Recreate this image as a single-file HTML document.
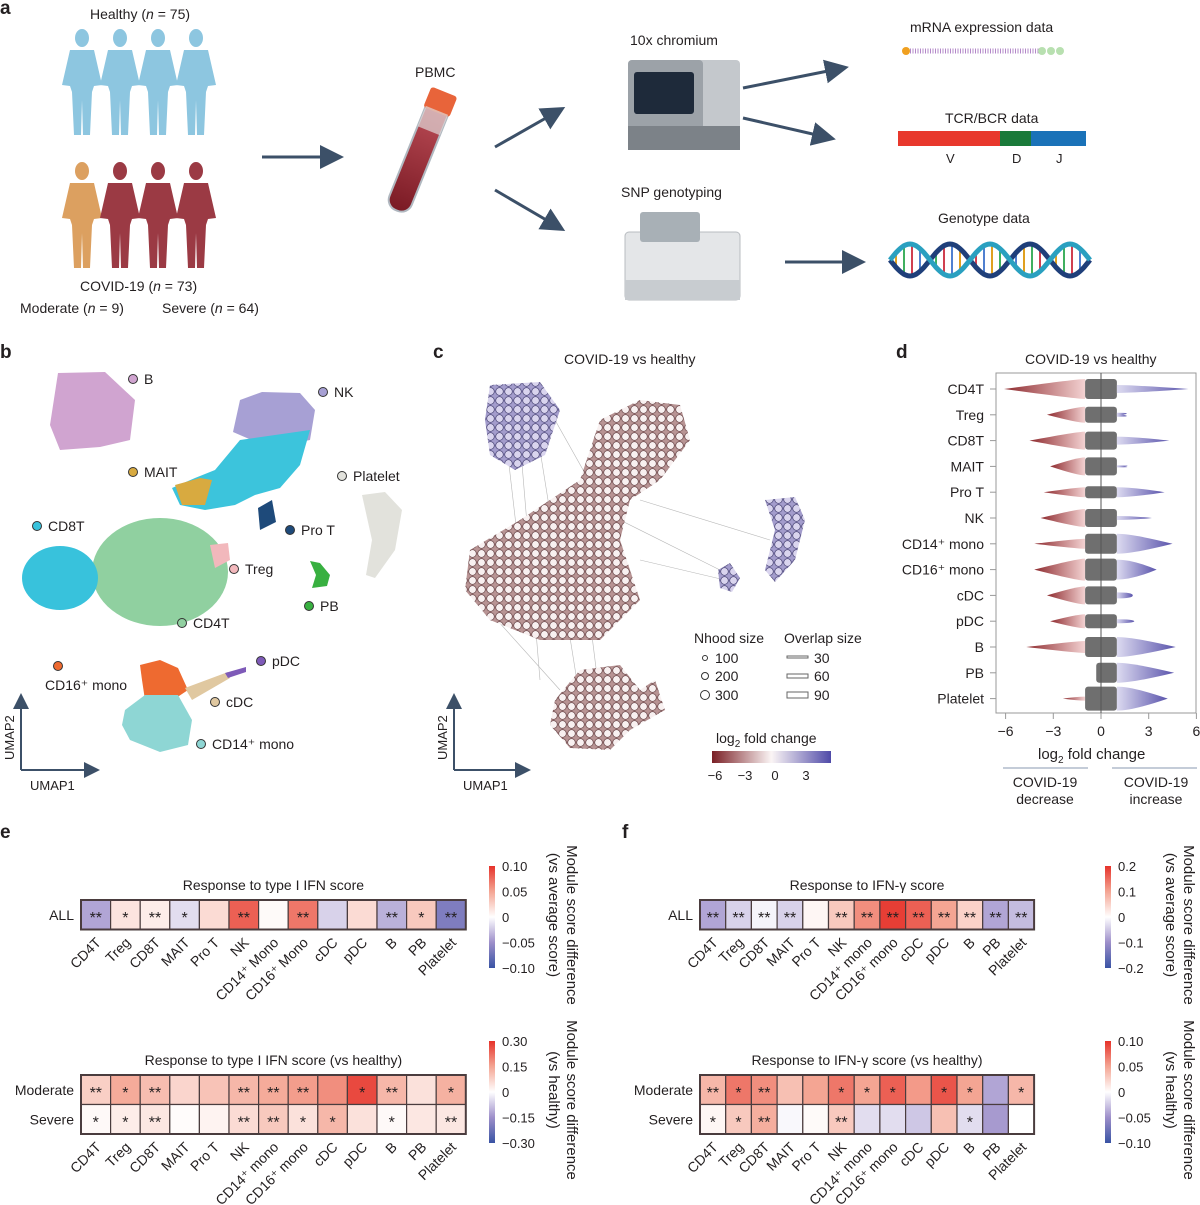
<!DOCTYPE html>
<html><head><meta charset="utf-8">
<style>
html,body{margin:0;padding:0;background:#fff;}
svg{display:block;font-family:"Liberation Sans",sans-serif;}
text{fill:#231f20;}
</style></head>
<body>
<svg id="fig" width="1200" height="1205" viewBox="0 0 1200 1205" xmlns="http://www.w3.org/2000/svg">
<defs>
 <linearGradient id="redg" x1="0" x2="1"><stop offset="0" stop-color="#8e2a2e"/><stop offset="1" stop-color="#f3d2d2"/></linearGradient>
 <linearGradient id="blueg" x1="0" x2="1"><stop offset="0" stop-color="#dcdaf0"/><stop offset="1" stop-color="#5a54ac"/></linearGradient>
 <linearGradient id="lfcbar" x1="0" x2="1"><stop offset="0" stop-color="#7a1f25"/><stop offset="0.5" stop-color="#fbf5f5"/><stop offset="1" stop-color="#4f4aa8"/></linearGradient>
 <linearGradient id="cbar" x1="0" x2="0" y1="0" y2="1"><stop offset="0" stop-color="#e6322a"/><stop offset="0.25" stop-color="#f4a593"/><stop offset="0.5" stop-color="#ffffff"/><stop offset="0.75" stop-color="#9d8fca"/><stop offset="1" stop-color="#3953a4"/></linearGradient>
 <linearGradient id="tube" x1="0" x2="0" y1="0" y2="1"><stop offset="0" stop-color="#c0505a"/><stop offset="1" stop-color="#7a1a24"/></linearGradient>
 <pattern id="nh" width="9" height="9" patternUnits="userSpaceOnUse"><rect width="9" height="9" fill="#b89494"/><circle cx="4.5" cy="4.5" r="3.8" fill="#f8f0f0" stroke="#5e3b3e" stroke-width="0.7"/></pattern>
 <pattern id="nhb" width="9" height="9" patternUnits="userSpaceOnUse"><rect width="9" height="9" fill="#a39ccc"/><circle cx="4.5" cy="4.5" r="3.8" fill="#d9d4ee" stroke="#3e3a6a" stroke-width="0.7"/></pattern>
 <marker id="ah" markerWidth="8" markerHeight="8" refX="6" refY="4" orient="auto"><path d="M0,0 L8,4 L0,8 z" fill="#3c5068"/></marker>
</defs>

<g>
<text x="0" y="14" font-size="19" font-weight="bold">a</text>
<text x="90" y="19" font-size="14">Healthy (<tspan font-style="italic">n</tspan> = 75)</text>
<g id="people"></g>
<text x="80" y="291" font-size="14">COVID-19 (<tspan font-style="italic">n</tspan> = 73)</text>
<text x="20" y="313" font-size="14">Moderate (<tspan font-style="italic">n</tspan> = 9)</text>
<text x="162" y="313" font-size="14">Severe (<tspan font-style="italic">n</tspan> = 64)</text>
<line x1="262" y1="157" x2="338" y2="157" stroke="#3c5068" stroke-width="3" marker-end="url(#ah)"/>
<text x="415" y="77" font-size="14">PBMC</text>
<g transform="rotate(22 425 140)">
 <rect x="413" y="98" width="24" height="118" rx="11" fill="url(#tube)" stroke="#b0b8c0" stroke-width="2"/>
 <rect x="411" y="88" width="28" height="22" rx="3" fill="#e8643a"/>
 <rect x="413" y="108" width="24" height="22" fill="#e0d8d8" opacity="0.7"/>
</g>
<line x1="495" y1="147" x2="560" y2="110" stroke="#3c5068" stroke-width="3" marker-end="url(#ah)"/>
<line x1="495" y1="190" x2="560" y2="228" stroke="#3c5068" stroke-width="3" marker-end="url(#ah)"/>
<text x="630" y="45" font-size="14">10x chromium</text>
<g>
 <rect x="628" y="60" width="112" height="90" rx="4" fill="#c4c8cc"/>
 <rect x="628" y="60" width="75" height="90" rx="4" fill="#9ca2a8"/>
 <rect x="634" y="72" width="60" height="42" rx="3" fill="#1e2a3a"/>
 <rect x="628" y="126" width="112" height="24" fill="#7c8288"/>
</g>
<text x="621" y="197" font-size="14">SNP genotyping</text>
<g>
 <rect x="625" y="232" width="115" height="68" rx="4" fill="#e4e6e8" stroke="#b8bcc0"/>
 <rect x="640" y="212" width="60" height="30" rx="3" fill="#a8b0b6"/>
 <rect x="625" y="280" width="115" height="20" fill="#c8ccd0"/>
</g>
<line x1="743" y1="88" x2="843" y2="68" stroke="#3c5068" stroke-width="3" marker-end="url(#ah)"/>
<line x1="743" y1="118" x2="830" y2="138" stroke="#3c5068" stroke-width="3" marker-end="url(#ah)"/>
<line x1="785" y1="262" x2="860" y2="262" stroke="#3c5068" stroke-width="3" marker-end="url(#ah)"/>
<text x="910" y="32" font-size="14">mRNA expression data</text>
<g>
 <line x1="905" y1="51" x2="1040" y2="51" stroke="#b388c8" stroke-width="5" stroke-dasharray="1 1.5"/>
 <circle cx="906" cy="51" r="4" fill="#f0a020"/>
 <circle cx="1042" cy="51" r="4" fill="#b8e0b0"/><circle cx="1051" cy="51" r="4" fill="#b8e0b0"/><circle cx="1060" cy="51" r="4" fill="#b8e0b0"/>
</g>
<text x="945" y="123" font-size="14">TCR/BCR data</text>
<rect x="898" y="131" width="102" height="15" fill="#e8382c"/>
<rect x="1000" y="131" width="31" height="15" fill="#1a7a3a"/>
<rect x="1031" y="131" width="55" height="15" fill="#1a72b8"/>
<text x="946" y="163" font-size="13">V</text>
<text x="1012" y="163" font-size="13">D</text>
<text x="1056" y="163" font-size="13">J</text>
<text x="938" y="223" font-size="14">Genotype data</text>
<g id="dna"></g>
</g>

<g>
<text x="0" y="358" font-size="19" font-weight="bold">b</text>
<path d="M58,373 L105,372 L135,400 L130,440 L100,447 L60,450 L50,425 Z" fill="#d0a4d0"/>
<path d="M233,432 L240,400 L262,392 L300,393 L315,410 L310,440 L270,448 Z" fill="#a7a0d4"/>
<path d="M240,440 L310,430 L300,465 L280,488 L255,495 L235,505 L205,510 L180,505 L172,488 L195,478 L215,470 Z" fill="#3cc4dc"/>
<path d="M175,485 L200,478 L212,480 L205,505 L182,505 Z" fill="#d8aa40"/>
<path d="M258,508 L272,500 L276,522 L260,530 Z" fill="#1e4a7a"/>
<ellipse cx="160" cy="572" rx="68" ry="54" fill="#90d0a0"/>
<path d="M210,545 L228,543 L230,560 L215,568 Z" fill="#f2b8bc"/>
<ellipse cx="60" cy="578" rx="38" ry="32" fill="#38c2dc"/>
<path d="M362,495 L385,492 L402,510 L395,550 L375,578 L366,575 L372,540 Z" fill="#e2e2dc"/>
<path d="M310,561 L320,563 L330,575 L327,586 L312,588 L316,575 Z" fill="#38b040"/>
<path d="M140,665 L160,660 L178,668 L188,690 L170,702 L145,700 L142,680 Z" fill="#ee6a30"/>
<path d="M125,710 L145,695 L178,695 L192,720 L188,745 L160,752 L130,740 L122,725 Z" fill="#8ed6d4"/>
<path d="M185,688 L228,672 L230,678 L192,700 Z" fill="#e0c8a0"/>
<path d="M225,673 L246,667 L246,672 L228,678 Z" fill="#7e5ab8"/>
<g id="blabels"></g>
<line x1="21" y1="770" x2="21" y2="697" stroke="#3c5068" stroke-width="2" marker-end="url(#ah)"/>
<line x1="21" y1="770" x2="96" y2="770" stroke="#3c5068" stroke-width="2" marker-end="url(#ah)"/>
<text x="14" y="760" font-size="13" transform="rotate(-90 14 760)">UMAP2</text>
<text x="30" y="790" font-size="13">UMAP1</text>
</g>

<g>
<text x="433" y="358" font-size="19" font-weight="bold">c</text>
<text x="564" y="364" font-size="14">COVID-19 vs healthy</text>
<g stroke="#b8b8b8" stroke-width="0.6">
 <line x1="520" y1="440" x2="540" y2="680"/><line x1="540" y1="450" x2="580" y2="700"/><line x1="505" y1="430" x2="520" y2="560"/>
 <line x1="555" y1="420" x2="600" y2="500"/><line x1="620" y1="520" x2="720" y2="570"/><line x1="640" y1="500" x2="770" y2="540"/>
 <line x1="590" y1="620" x2="600" y2="700"/><line x1="640" y1="560" x2="725" y2="580"/><line x1="470" y1="590" x2="560" y2="690"/>
</g>
<path d="M490,385 L540,382 L560,410 L545,455 L515,470 L490,455 L485,420 Z" fill="url(#nhb)"/>
<path d="M600,420 L640,400 L680,405 L690,440 L660,480 L630,500 L620,540 L640,600 L600,640 L540,640 L490,620 L465,590 L470,550 L520,520 L580,480 Z" fill="url(#nh)"/>
<path d="M555,700 L580,670 L620,665 L640,690 L655,680 L665,710 L630,730 L610,750 L570,748 L550,725 Z" fill="url(#nh)"/>
<path d="M765,500 L795,497 L805,520 L795,560 L775,582 L765,570 L775,530 Z" fill="url(#nhb)"/>
<path d="M718,570 L730,563 L740,578 L732,592 L720,588 Z" fill="url(#nhb)"/>
<line x1="454" y1="770" x2="454" y2="697" stroke="#3c5068" stroke-width="2" marker-end="url(#ah)"/>
<line x1="454" y1="770" x2="527" y2="770" stroke="#3c5068" stroke-width="2" marker-end="url(#ah)"/>
<text x="447" y="760" font-size="13" transform="rotate(-90 447 760)">UMAP2</text>
<text x="463" y="790" font-size="13">UMAP1</text>
<text x="694" y="643" font-size="14">Nhood size</text>
<text x="784" y="643" font-size="14">Overlap size</text>
<g>
 <circle cx="705" cy="658" r="2.5" fill="#fff" stroke="#333"/><text x="715" y="663" font-size="14">100</text>
 <circle cx="705" cy="676" r="3.5" fill="#fff" stroke="#333"/><text x="715" y="681" font-size="14">200</text>
 <circle cx="705" cy="695" r="4.5" fill="#fff" stroke="#333"/><text x="715" y="700" font-size="14">300</text>
</g>
<g>
 <rect x="787" y="656" width="21" height="2" fill="#fff" stroke="#666"/><text x="814" y="663" font-size="14">30</text>
 <rect x="787" y="674" width="21" height="4" fill="#fff" stroke="#666"/><text x="814" y="681" font-size="14">60</text>
 <rect x="787" y="692" width="21" height="6" fill="#fff" stroke="#666"/><text x="814" y="700" font-size="14">90</text>
</g>
<text x="716" y="743" font-size="14">log<tspan font-size="10" dy="4">2</tspan><tspan dy="-4"> fold change</tspan></text>
<rect x="712" y="751" width="119" height="12" fill="url(#lfcbar)"/>
<g font-size="13">
 <text x="715" y="780" text-anchor="middle">−6</text><text x="745" y="780" text-anchor="middle">−3</text>
 <text x="775" y="780" text-anchor="middle">0</text><text x="806" y="780" text-anchor="middle">3</text>
</g>
</g>

<g id="paneld">
<text x="896" y="358" font-size="19" font-weight="bold">d</text>
<text x="1025" y="364" font-size="14">COVID-19 vs healthy</text>
<rect x="996" y="373" width="200" height="340" fill="none" stroke="#999"/>
<g id="swarm"></g>
<line x1="1101" y1="373" x2="1101" y2="713" stroke="#555"/>
<g id="dticks"></g>
<text x="1038" y="759" font-size="15">log<tspan font-size="10" dy="4">2</tspan><tspan dy="-4"> fold change</tspan></text>
<line x1="1088" y1="768" x2="1003" y2="768" stroke="#8a9ab0"/>
<line x1="1112" y1="768" x2="1197" y2="768" stroke="#8a9ab0"/>
<text x="1045" y="787" font-size="14" text-anchor="middle">COVID-19</text>
<text x="1045" y="804" font-size="14" text-anchor="middle">decrease</text>
<text x="1156" y="787" font-size="14" text-anchor="middle">COVID-19</text>
<text x="1156" y="804" font-size="14" text-anchor="middle">increase</text>
</g>

<text x="0" y="838" font-size="19" font-weight="bold">e</text>
<text x="622" y="838" font-size="19" font-weight="bold">f</text>
<g id="heatmaps"></g>
</svg>

<script>
const dCells = ["CD4T","Treg","CD8T","MAIT","Pro T","NK","CD14⁺ mono","CD16⁺ mono","cDC","pDC","B","PB","Platelet"];
const dMinLfc = [-6.1,-3.4,-4.5,-3.2,-3.6,-3.8,-4.2,-4.2,-3.4,-3.2,-4.7,-0.3,-2.4];
const dMaxLfc = [5.5,1.4,4.3,1.5,4.0,3.2,4.5,3.5,2.0,2.1,4.7,4.6,4.2];
const dWidthL = [1.0,0.8,0.9,0.9,0.5,0.9,0.5,1.1,0.9,0.7,0.6,0.1,0.2];
const dWidthR = [0.4,0.2,0.4,0.1,0.5,0.2,1.0,1.0,0.3,0.2,1.0,1.0,1.2];
const dTicks = [-6,-3,0,3,6];

const hmCells1 = ["CD4T","Treg","CD8T","MAIT","Pro T","NK","CD14⁺ Mono","CD16⁺ Mono","cDC","pDC","B","PB","Platelet"];
const hmCells2 = ["CD4T","Treg","CD8T","MAIT","Pro T","NK","CD14⁺ mono","CD16⁺ mono","cDC","pDC","B","PB","Platelet"];
const eAll = [-0.04,0.015,0.01,-0.015,0.02,0.08,0.003,0.07,-0.02,0.02,-0.035,0.03,-0.065];
const eAllStars = ["**","*","**","*","","**","","**","","","**","*","**"];
const eMod = [0.08,0.14,0.11,0.07,0.10,0.12,0.14,0.16,0.18,0.27,0.12,0.05,0.13];
const eModStars = ["**","*","**","","","**","**","**","","*","**","","*"];
const eSev = [0.01,0.03,0.04,0.005,0.02,0.06,0.09,0.05,0.12,0.05,0.01,0.04,0.04];
const eSevStars = ["*","*","**","","","**","**","*","*","","*","","**"];
const fAll = [-0.08,-0.04,-0.01,-0.04,0.01,0.06,0.12,0.19,0.16,0.1,0.05,-0.08,-0.06];
const fAllStars = ["**","**","**","**","","**","**","**","**","**","**","**","**"];
const fMod = [0.04,0.07,0.06,0.035,0.05,0.07,0.05,0.08,0.055,0.085,0.05,-0.04,0.04];
const fModStars = ["**","*","**","","","*","*","*","","*","*","","*"];
const fSev = [0.005,0.03,0.045,-0.003,0.003,0.03,-0.015,-0.015,-0.025,0.035,-0.015,-0.045,0.0];
const fSevStars = ["*","*","**","","","**","","","","","*","",""];
const eTopTicks = ["0.10","0.05","0","−0.05","−0.10"];
const eBotTicks = ["0.30","0.15","0","−0.15","−0.30"];
const fTopTicks = ["0.2","0.1","0","−0.1","−0.2"];
const fBotTicks = ["0.10","0.05","0","−0.05","−0.10"];

const NS = "http://www.w3.org/2000/svg";
function mk(tag, attrs, parent){ const e=document.createElementNS(NS,tag); for(const k in attrs) e.setAttribute(k,attrs[k]); parent.appendChild(e); return e; }

(function(){
  const g=document.getElementById('people');
  const xs=[82,120,158,196];
  const cols=[["#8dc6e0","#8dc6e0","#8dc6e0","#8dc6e0"],["#dca060","#9b3a44","#9b3a44","#9b3a44"]];
  [[30,0],[163,1]].forEach(([y0,r])=>{
    xs.forEach((x,i)=>{
      const p=mk('g',{},g);
      
      
      const c=cols[r][i];
      mk('ellipse',{cx:x,cy:y0+8,rx:7,ry:9,fill:c},p);
      mk('path',{d:`M${x-12},${y0+20} L${x+12},${y0+20} L${x+20},${y0+55} L${x+12},${y0+56} L${x+10},${y0+62} L${x+8},${y0+105} L${x+1},${y0+105} L${x},${y0+70} L${x-1},${y0+105} L${x-8},${y0+105} L${x-10},${y0+62} L${x-12},${y0+56} L${x-20},${y0+55} Z`,fill:c},p);
    });
  });
})();
(function(){
  const g=document.getElementById('dna');
  let a="",b="";
  for(let x=890;x<=1090;x+=2){ const t=(x-890)/200*Math.PI*5; const y1=260+16*Math.sin(t), y2=260-16*Math.sin(t);
    a+=(x===890?"M":"L")+x+","+y1.toFixed(1); b+=(x===890?"M":"L")+x+","+y2.toFixed(1);
    if(x%8===0){ const l=mk('line',{x1:x,y1:y1,x2:x,y2:y2,stroke:["#e0a020","#40b060","#d04050","#5080d0"][(x/8)%4],'stroke-width':2},g);   }
  }
  mk('path',{d:a,fill:'none',stroke:'#1f3f7a','stroke-width':5},g);
  mk('path',{d:b,fill:'none',stroke:'#2aa0c0','stroke-width':5},g);
})();
(function(){
  const g=document.getElementById('blabels');
  const L=[["B",133,379,"#d0a4d0"],["NK",323,392,"#a7a0d4"],["MAIT",133,472,"#d8aa40"],["Platelet",342,476,"#e2e2dc"],["CD8T",37,526,"#38c2dc"],["Pro T",290,530,"#1e4a7a"],["Treg",234,569,"#f2b8bc"],["PB",309,606,"#38b040"],["CD4T",182,623,"#90d0a0"],["pDC",261,661,"#7e5ab8"],["cDC",215,702,"#e0c8a0"],["CD14⁺ mono",201,744,"#8ed6d4"]];
  L.forEach(([t,x,y,c])=>{
    const d=mk('circle',{cx:x,cy:y,r:4.5,fill:c,stroke:'#333','stroke-width':1},g);
     
    const tx=mk('text',{x:x+11,y:y+5,'font-size':14},g); tx.textContent=t;
     
  });
  const d=mk('circle',{cx:58,cy:666,r:4.5,fill:'#ee6a30',stroke:'#333'},g);
   
  const tx=mk('text',{x:45,y:690,'font-size':14},g); tx.textContent="CD16⁺ mono";
   
})();

(function(){
  const g=document.getElementById('swarm');
  const xS=v=>1101+v*15.9;
  const yS=i=>389+i*25.8;
  const tk=document.getElementById('dticks');
  dCells.forEach((c,i)=>{
    const y=yS(i);
    const lo=dMinLfc[i], hi=dMaxLfc[i], wl=dWidthL[i]*10, wr=dWidthR[i]*10;
    if(lo<-1){ const p=mk('path',{d:`M${xS(lo)},${y} Q${xS(-1.5)},${y-wl} ${xS(-1)},${y-wl} L${xS(-1)},${y+wl} Q${xS(-1.5)},${y+wl} ${xS(lo)},${y} Z`,fill:'url(#redg)'},g);
        }
    const gw=Math.max(wl,wr,6);
    const gr=mk('rect',{x:xS(Math.max(lo,-1)),y:y-gw,width:xS(Math.min(hi,1))-xS(Math.max(lo,-1)),height:gw*2,rx:3,fill:'#6f6f6f'},g);
     
    if(hi>1){ const p=mk('path',{d:`M${xS(1)},${y-wr} Q${xS(2)},${y-wr} ${xS(hi)},${y} Q${xS(2)},${y+wr} ${xS(1)},${y+wr} Z`,fill:'url(#blueg)'},g);
        }
    const l=mk('line',{x1:990,y1:y,x2:996,y2:y,stroke:'#999'},tk);
     
    const t=mk('text',{x:984,y:y+5,'font-size':14,'text-anchor':'end'},tk); t.textContent=c;
     
  });
  dTicks.forEach(v=>{
    const l=mk('line',{x1:xS(v),y1:713,x2:xS(v),y2:719,stroke:'#999'},tk);
     
    const t=mk('text',{x:xS(v),y:736,'font-size':14,'text-anchor':'middle'},tk); t.textContent=(v<0?"−"+(-v):v);
     
  });
})();

function col(v,max){
  let t=Math.max(-1,Math.min(1,v/max));
  const stops=[[-1,[57,83,164]],[-0.5,[157,143,202]],[0,[255,255,255]],[0.5,[244,165,147]],[1,[230,50,42]]];
  for(let k=0;k<4;k++){ const [a,ca]=stops[k],[b,cb]=stops[k+1]; if(t<=b){ const f=(t-a)/(b-a); return `rgb(${ca.map((c,j)=>Math.round(c+(cb[j]-c)*f)).join(',')})`; } }
}
function heat(g,x0,w,yTop,rows,rowLabels,starsArr,max,cells,title,cbX,ticks,vt1,vt2,vtX){
  const n=cells.length, rh=29.5, cx=x0+n*w/2;
  const tt=mk('text',{x:cx,y:yTop-10,'font-size':14,'text-anchor':'middle'},g); tt.textContent=title;
   
  rows.forEach((vals,r)=>{
    const y=yTop+r*rh;
    const rl=mk('text',{x:x0-7,y:y+rh/2+5,'font-size':14,'text-anchor':'end'},g); rl.textContent=rowLabels[r];
     
    vals.forEach((v,i)=>{
      const c=mk('rect',{x:x0+i*w,y:y,width:w,height:rh,fill:col(v,max),stroke:'#4a3c3e','stroke-width':1.2},g);
       
      if(starsArr[r][i]){ const s=mk('text',{x:x0+i*w+w/2,y:y+rh/2+8,'font-size':16,'text-anchor':'middle'},g); s.textContent=starsArr[r][i];
          }
    });
  });
  const yb=yTop+rows.length*rh;
  const fr=mk('rect',{x:x0,y:yTop,width:n*w,height:rows.length*rh,fill:'none',stroke:'#4a3c3e','stroke-width':2},g);
   
  cells.forEach((c,i)=>{
    const x=x0+i*w+w/2+6, y=yb+14;
    const t=mk('text',{x:x,y:y,'font-size':14,'text-anchor':'end',transform:`rotate(-45 ${x} ${y})`},g); t.textContent=c;
     
  });
  const cbTop=yTop-34, cbH=102;
  const cb=mk('rect',{x:cbX,y:cbTop,width:6,height:cbH,fill:'url(#cbar)'},g);
   
  ticks.forEach((tx,k)=>{ const t=mk('text',{x:cbX+13,y:cbTop+k*cbH/4+5,'font-size':13},g); t.textContent=tx;
      });
  const cy=cbTop+cbH/2+8;
  const a=mk('text',{x:vtX,y:cy,'font-size':15,'text-anchor':'middle',transform:`rotate(90 ${vtX} ${cy})`},g); a.textContent=vt1;
   
  const b=mk('text',{x:vtX-18,y:cy-10,'font-size':15,'text-anchor':'middle',transform:`rotate(90 ${vtX-18} ${cy-10})`},g); b.textContent=vt2;
   
}
const H=document.getElementById('heatmaps');
heat(H,81,29.6,900,[eAll],["ALL"],[eAllStars],0.10,hmCells1,"Response to type I IFN score",489,eTopTicks,"Module score difference","(vs average score)",567);
heat(H,81,29.6,1075,[eMod,eSev],["Moderate","Severe"],[eModStars,eSevStars],0.30,hmCells2,"Response to type I IFN score (vs healthy)",489,eBotTicks,"Module score difference","(vs healthy)",567);
heat(H,700,25.7,900,[fAll],["ALL"],[fAllStars],0.2,hmCells2,"Response to IFN-γ score",1105,fTopTicks,"Module score difference","(vs average score)",1184);
heat(H,700,25.7,1075,[fMod,fSev],["Moderate","Severe"],[fModStars,fSevStars],0.10,hmCells2,"Response to IFN-γ score (vs healthy)",1105,fBotTicks,"Module score difference","(vs healthy)",1184);
</script>
</body></html>
